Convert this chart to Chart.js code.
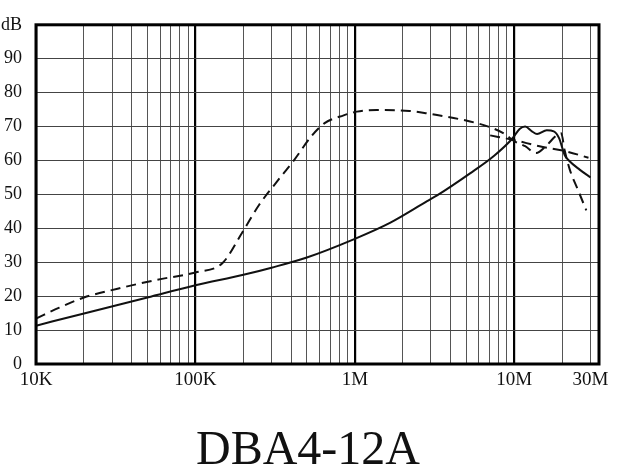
<!DOCTYPE html>
<html>
<head>
<meta charset="utf-8">
<script src="https://cdn.jsdelivr.net/npm/chart.js@4/dist/chart.umd.min.js"></script>
<style>
  html, body { margin: 0; padding: 0; background: #fff; }
  #wrap { width: 617px; height: 466px; position: relative; }
</style>
</head>
<body>
<div id="wrap"><canvas id="c" width="617" height="466"></canvas></div>
<script>
// ---- data ----
const chartTitle = 'DBA4-12A';

const solidFreq = [1e4, 2e4, 5e4, 1e5, 2e5, 3e5, 5e5, 1e6, 1.66e6, 2.84e6, 3.28e6, 5.28e6, 7.48e6, 9.7e6, 1.08e7, 1.17e7, 1.29e7, 1.39e7, 1.6e7, 1.77e7, 1.91e7, 2.07e7, 2.2e7, 2.57e7, 3.01e7];
const solidDb   = [11.3, 14.9, 19.6, 23.2, 26.3, 28.4, 31.4, 36.9, 41.6, 48.0, 49.7, 56.2, 61.4, 66.4, 69.3, 70.0, 68.6, 67.8, 68.9, 68.6, 66.6, 61.6, 60.0, 57.3, 55.0];

const dashedFreq = [1e4, 1.4e4, 2e4, 3.25e4, 5.7e4, 1e5, 1.48e5, 1.98e5, 2.5e5, 3.21e5, 4.17e5, 5.35e5, 6.46e5, 8.51e5, 1.03e6, 1.37e6, 2.2e6, 2.84e6, 3.28e6, 5.28e6, 7.06e6, 8.65e6, 1e7, 1.17e7, 1.37e7, 1.6e7, 1.82e7, 1.97e7, 2.07e7, 2.23e7, 2.5e7, 2.83e7];
const dashedDb   = [13.4, 16.6, 19.6, 22.2, 24.8, 27.0, 29.8, 39.0, 46.8, 53.5, 60.2, 67.2, 71.0, 73.3, 74.4, 74.9, 74.6, 73.9, 73.4, 71.5, 69.8, 67.9, 65.7, 64.2, 62.2, 64.5, 67.2, 68.0, 63.0, 57.3, 51.5, 45.3];

const branchFreq = [7.06e6, 1e7, 1.44e7, 2.07e7, 2.92e7];
const branchDb   = [67.4, 66.0, 64.2, 62.8, 60.8];

const xTickValues = [1e4,2e4,3e4,4e4,5e4,6e4,7e4,8e4,9e4,
                     1e5,2e5,3e5,4e5,5e5,6e5,7e5,8e5,9e5,
                     1e6,2e6,3e6,4e6,5e6,6e6,7e6,8e6,9e6,
                     1e7,2e7,3e7];
const xLabelValues = [1e4, 1e5, 1e6, 1e7, 3e7];
const xLabelTexts  = ['10K', '100K', '1M', '10M', '30M'];
const yTopLabel = 'dB';

// ---- build ----
const toPts = (xs, ys) => xs.map((x, i) => ({ x: x, y: ys[i] }));
const isDecade = v => Math.abs(Math.log10(v) - Math.round(Math.log10(v))) < 1e-9;

const lineBase = {
  borderColor: '#111',
  borderWidth: 2,
  pointRadius: 0,
  fill: false,
  cubicInterpolationMode: 'monotone'
};

const framePlugin = {
  id: 'frame',
  afterDraw(chart) {
    const { ctx, chartArea: a } = chart;
    ctx.save();
    ctx.strokeStyle = '#000';
    ctx.lineWidth = 3;
    ctx.strokeRect(a.left, a.top, a.right - a.left, a.bottom - a.top);
    ctx.fillStyle = '#111';
    ctx.font = '48px "Liberation Serif"';
    ctx.textAlign = 'center';
    ctx.textBaseline = 'alphabetic';
    ctx.fillText(chartTitle, 308, 464);
    ctx.restore();
  }
};

new Chart(document.getElementById('c'), {
  type: 'line',
  data: {
    datasets: [
      Object.assign({ label: 'solid', data: toPts(solidFreq, solidDb) }, lineBase),
      Object.assign({ label: 'dashed', data: toPts(dashedFreq, dashedDb), borderDash: [10, 6] }, lineBase),
      Object.assign({ label: 'dashed2', data: toPts(branchFreq, branchDb), borderDash: [10, 6] }, lineBase)
    ]
  },
  options: {
    responsive: false,
    animation: false,
    devicePixelRatio: 1,
    layout: { padding: { left: 0, top: 20, right: 18, bottom: 72 } },
    plugins: { legend: { display: false }, tooltip: { enabled: false }, title: { display: false } },
    scales: {
      x: {
        type: 'logarithmic',
        min: 1e4,
        max: 3.4e7,
        afterBuildTicks: s => { s.ticks = xTickValues.map(v => ({ value: v })); },
        afterFit: s => { s.height = 30; },
        border: { display: false },
        grid: {
          drawTicks: false,
          color: c => (c.tick && isDecade(c.tick.value)) ? '#000' : '#555',
          lineWidth: c => (c.tick && isDecade(c.tick.value)) ? 2.2 : 1
        },
        ticks: {
          autoSkip: false,
          maxRotation: 0,
          padding: 5,
          color: '#111',
          font: { family: '"Liberation Serif"', size: 19 },
          callback: v => {
            const i = xLabelValues.findIndex(t => Math.abs(t - v) / t < 1e-6);
            return i >= 0 ? xLabelTexts[i] : '';
          }
        }
      },
      y: {
        type: 'linear',
        min: 0,
        max: 100,
        afterFit: s => { s.width = 36; },
        border: { display: false },
        grid: { drawTicks: false, color: '#444', lineWidth: 1 },
        ticks: {
          stepSize: 10,
          padding: 14,
          color: '#111',
          font: { family: '"Liberation Serif"', size: 18 },
          callback: v => v === 100 ? yTopLabel : String(v)
        }
      }
    }
  },
  plugins: [framePlugin]
});
</script>
</body>
</html>
